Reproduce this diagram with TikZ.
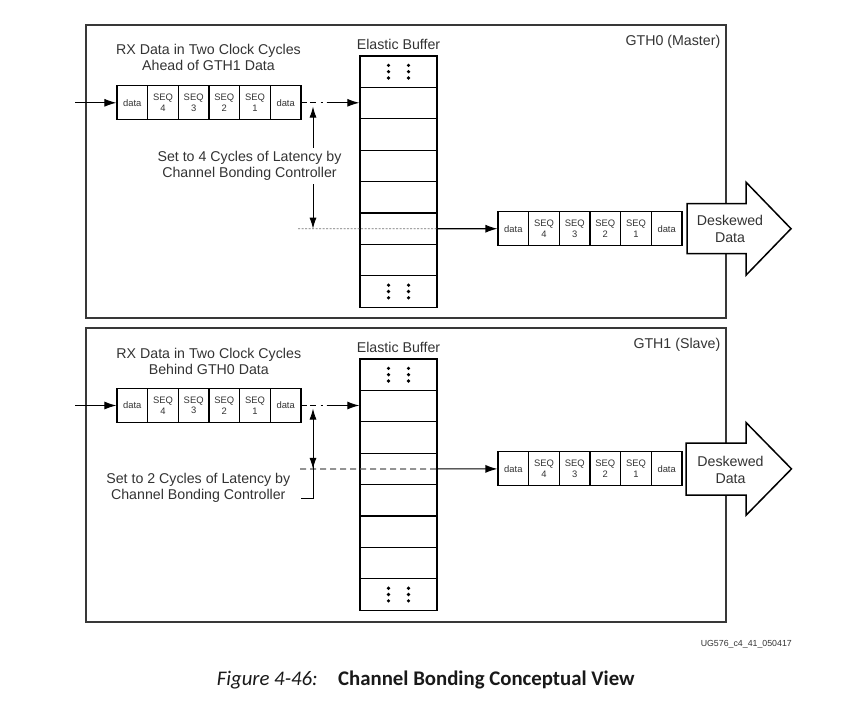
\documentclass[tikz,border=0pt]{standalone}
\usepackage{fontspec}
\setmainfont{Liberation Sans}
\newfontfamily\capfont{Carlito}
\usetikzlibrary{arrows.meta}
\newcommand\seqrow[3]{%
  \foreach \t [count=\i] in {data,{SEQ\\4},{SEQ\\3},{SEQ\\2},{SEQ\\1},data}
    \node[cell] (#1\i) at ({#2+15.33+(\i-1)*30.67}, #3) {\t};
}
\newcommand\bufcol[2]{%
  \foreach \i in {1,...,8}
    \node[bufcell] (#1\i) at (398.5, {#2+15.7+(\i-1)*31.4}) {};
  \foreach \dx in {-10,10}
    \foreach \dy in {-6.3,0,6.3} {
      \fill ([xshift=\dx pt, yshift=\dy pt]#11.center) circle (1.8pt);
      \fill ([xshift=\dx pt, yshift=\dy pt]#18.center) circle (1.8pt);
    }
}
\begin{document}
\begin{tikzpicture}[x=1pt,y=-1pt,
  panel/.style={draw=black!78, line width=1.6pt},
  cell/.style={draw, line width=1.1pt, minimum width=30.67pt, minimum height=34pt, inner sep=0pt,
    font=\fontsize{9.4}{10.5}\selectfont, align=center, text=black!80},
  bufcell/.style={draw, line width=1.3pt, minimum width=77pt, minimum height=31.4pt, inner sep=0pt},
  lbl/.style={font=\fontsize{14.2}{16}\selectfont, text=black!80, inner sep=0pt},
  arr/.style={line width=1.1pt, -{Latex[length=12pt,width=8pt]}},
  varr/.style={line width=0.9pt, -{Latex[length=11pt,width=7pt]}},
  dashdot/.style={line width=1.1pt, dash pattern=on 5.6pt off 2.7pt on 6pt off 4.7pt on 2.6pt off 3.4pt},
  bigarrow/.style={draw, fill=white, line width=1.5pt, line join=miter},
]
\useasboundingbox (0,0) rectangle (865,701);

% panels
\draw[panel] (85.7,25) rectangle (726,318);
\draw[panel] (85.7,328) rectangle (726,622);

% ===== top panel =====
\node[lbl, anchor=base east] (t-title) at (720.5,46) {GTH0 (Master)};
\node[lbl, anchor=base] (t-rx1) at (208.5,54.3) {RX Data in Two Clock Cycles};
\node[lbl, anchor=base] (t-rx2) at (208.5,70.7) {Ahead of GTH1 Data};
\node[lbl, anchor=base] (t-eb) at (398.5,50) {Elastic Buffer};
\node[lbl, anchor=base] (t-set1) at (249.5,161.7) {Set to 4 Cycles of Latency by};
\node[lbl, anchor=base] (t-set2) at (249.5,177.3) {Channel Bonding Controller};

\seqrow{ti}{117}{102.8}
\bufcol{tb}{56}
\seqrow{to}{498}{228.7}

\coordinate (t-src) at (75,102.8);
\draw[arr] (t-src) -- (ti1.west);
\coordinate (t-j) at ([xshift=25pt]ti6.east);
\draw[dashdot] (ti6.east) -- (t-j);
\draw[arr] (t-j) -- (t-j -| tb2.west);

\coordinate (t-dash) at (298,228.7);
\draw[black!55, line width=0.8pt, dash pattern=on 2pt off 1.5pt] (t-dash) -- (tb6.east);
\draw[arr] (tb6.east) -- (to1.west);

\coordinate (t-up0) at (313,147.5);
\coordinate (t-up1) at (313,106.5);
\draw[varr] (t-up0) -- (t-up1);
\coordinate (t-dn0) at (313,184);
\draw[varr] (t-dn0) -- (t-dn0 |- t-dash);

\draw[bigarrow] (687,203.7) -- (746,203.7) -- (746,182.2) -- (791,228.7) -- (746,275.2) -- (746,253.7) -- (687,253.7) -- cycle;
\node[lbl, anchor=base] (t-desk1) at (730,225.2) {Deskewed};
\node[lbl, anchor=base] (t-desk2) at (730,242.7) {Data};

% ===== bottom panel =====
\node[lbl, anchor=base east] (b-title) at (720.5,348) {GTH1 (Slave)};
\node[lbl, anchor=base] (b-rx1) at (208.8,358.3) {RX Data in Two Clock Cycles};
\node[lbl, anchor=base] (b-rx2) at (208.8,374.3) {Behind GTH0 Data};
\node[lbl, anchor=base] (b-eb) at (398.5,352) {Elastic Buffer};
\node[lbl, anchor=base] (b-set1) at (198.3,483.3) {Set to 2 Cycles of Latency by};
\node[lbl, anchor=base] (b-set2) at (198.3,499.3) {Channel Bonding Controller};

\seqrow{bi}{117}{405.5}
\bufcol{bb}{359}
\seqrow{bo}{498}{468.9}

\coordinate (b-src) at (75,405.5);
\draw[arr] (b-src) -- (bi1.west);
\coordinate (b-j) at ([xshift=25pt]bi6.east);
\draw[dashdot] (bi6.east) -- (b-j);
\draw[arr] (b-j) -- (b-j -| bb2.west);

\coordinate (b-dash) at (300,468.9);
\draw[black!65, line width=1.3pt, dash pattern=on 6pt off 4pt] (b-dash) -- (bb4.east);
\draw[arr] (bb4.east) -- (bo1.west);

\coordinate (b-l0) at (301,498);
\coordinate (b-l1) at (313,498);
\coordinate (b-up1) at (313,408.5);
\draw[varr] (b-l0) -- (b-l1) -- (b-up1);
\coordinate (b-dn0) at (313,445);
\draw[varr] (b-dn0) -- (b-dn0 |- b-dash);

\draw[bigarrow] (686,443) -- (746,443) -- (746,422.5) -- (791.5,468.9) -- (746,515.3) -- (746,495) -- (686,495) -- cycle;
\node[lbl, anchor=base] (b-desk1) at (730.5,466) {Deskewed};
\node[lbl, anchor=base] (b-desk2) at (730.5,483) {Data};

% ===== footer =====
\node[font=\fontsize{8.8}{10}\selectfont, text=black!80, inner sep=0pt, anchor=base east] (ug) at (792,646) {UG576\_c4\_41\_050417};
\node[font=\capfont\itshape\fontsize{20.8}{24}\selectfont, text=black!90, inner sep=0pt, anchor=base east] (cap1) at (318,685) {Figure 4-46:};
\node[font=\capfont\bfseries\fontsize{20.8}{24}\selectfont, text=black!90, inner sep=0pt, anchor=base west] (cap2) at (338,685) {Channel Bonding Conceptual View};
\end{tikzpicture}
\end{document}
